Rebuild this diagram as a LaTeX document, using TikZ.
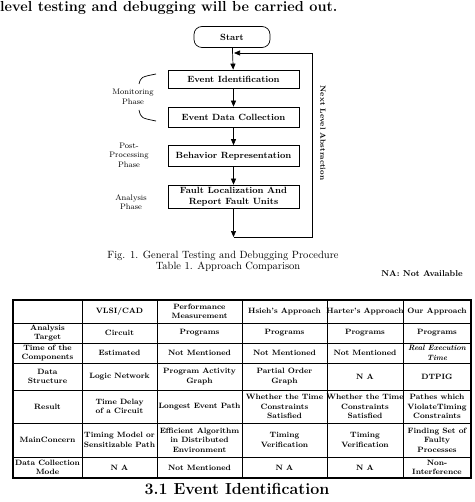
\documentclass[tikz,border=0pt]{standalone}
\usetikzlibrary{arrows.meta}
\begin{document}
\begin{tikzpicture}[x=1pt,y=-1pt,
  box/.style={draw,line width=0.7pt,minimum width=131pt,inner sep=1pt,align=center,font=\fontsize{9}{10.5}\selectfont\bfseries},
  startbox/.style={draw,line width=0.7pt,rounded corners=8pt,minimum width=76pt,minimum height=21pt,inner sep=1pt,font=\fontsize{9}{10.5}\selectfont\bfseries},
  arr/.style={line width=0.7pt,-{Triangle[length=6pt,width=5pt]}},
  ln/.style={line width=0.7pt},
  side/.style={align=center,font=\fontsize{8}{9.5}\selectfont},
  cellt/.style={align=center,inner sep=0pt,font=\fontsize{7.7}{9.6}\selectfont\bfseries},
  grid/.style={line width=0.6pt},
  outer/.style={line width=1.1pt}]
\useasboundingbox (0,0) rectangle (474,502);

% top text
\node[anchor=west,inner sep=0pt,font=\fontsize{14.5}{16}\selectfont\bfseries] (toptext) at (0,8) {level testing and debugging will be carried out.};

% flowchart
\node[startbox] (start) at (232,37) {Start};
\node[box,minimum height=18pt] (ei) at (233.5,79) {Event Identification};
\node[box,minimum height=20pt] (edc) at (233.5,117) {Event Data Collection};
\node[box,minimum height=21pt] (br) at (233.5,156) {Behavior Representation};
\node[box,minimum height=23pt] (fl) at (233.5,196.5) {Fault Localization And\\Report Fault Units};

\coordinate (join) at (234,53);
\coordinate (loopb) at (233.5,237);
\coordinate (loopbr) at (312,237);
\coordinate (looptr) at (312,53);

\draw[arr] (start) -- (ei);
\draw[arr] (ei) -- (edc);
\draw[arr] (edc) -- (br);
\draw[arr] (br) -- (fl);
\draw[arr] (fl) -- (loopb);
\draw[arr] (loopb) -- (loopbr) -- (looptr) -- (join);

\node[rotate=-90,inner sep=0pt,font=\fontsize{7.5}{8}\selectfont\bfseries] (nla) at (323,133) {Next Level Abstraction};

% left labels
\node[side] (mon) at (133,97) {Monitoring\\Phase};
\coordinate (mu1) at (139,84);
\coordinate (mu2) at (156,74);
\coordinate (ml1) at (139,110);
\coordinate (ml2) at (156,121);
\draw[ln] (mu1) .. controls (141,77) .. (mu2);
\draw[ln] (ml1) .. controls (141,118) .. (ml2);
\node[side] (post) at (129,155) {Post-\\Processing\\Phase};
\node[side] (ana) at (131,202) {Analysis\\Phase};

% captions
\node[font=\fontsize{10.5}{12}\selectfont] (fig) at (223,256) {Fig. 1. General Testing and Debugging Procedure};
\node[font=\fontsize{10.5}{12}\selectfont] (tabcap) at (228,267) {Table 1. Approach Comparison};
\node[font=\fontsize{8.5}{10}\selectfont\bfseries] (na) at (422,274) {NA: Not Available};

% table grid
\draw[outer] (13,300) rectangle (471,478);
\foreach \x in {82,157,242,327,403} \draw[grid] (\x,300) -- (\x,478);
\foreach \y in {323,343,363,390,423,457} \draw[grid] (13,\y) -- (471,\y);

% header row
\node[cellt] (h2) at (119.5,311.5) {VLSI/CAD};
\node[cellt] (h3) at (199.5,311.5) {Performance\\Measurement};
\node[cellt] (h4) at (284.5,311.5) {Hsieh's Approach};
\node[cellt] (h5) at (365,311.5) {Harter's Approach};
\node[cellt] (h6) at (437,311.5) {Our Approach};
% row 1
\node[cellt] (a1) at (47.5,333) {Analysis\\Target};
\node[cellt] (a2) at (119.5,333) {Circuit};
\node[cellt] (a3) at (199.5,333) {Programs};
\node[cellt] (a4) at (284.5,333) {Programs};
\node[cellt] (a5) at (365,333) {Programs};
\node[cellt] (a6) at (437,333) {Programs};
% row 2
\node[cellt] (b1) at (47.5,353) {Time of the\\Components};
\node[cellt] (b2) at (119.5,353) {Estimated};
\node[cellt] (b3) at (199.5,353) {Not Mentioned};
\node[cellt] (b4) at (284.5,353) {Not Mentioned};
\node[cellt] (b5) at (365,353) {Not Mentioned};
\node[cellt,font=\fontsize{7.7}{9.6}\selectfont\bfseries\itshape] (b6) at (437,353) {Real Execution\\Time};
% row 3
\node[cellt] (d1) at (47.5,376.5) {Data\\Structure};
\node[cellt] (d2) at (119.5,376.5) {Logic Network};
\node[cellt] (d3) at (199.5,376.5) {Program Activity\\Graph};
\node[cellt] (d4) at (284.5,376.5) {Partial Order\\Graph};
\node[cellt] (d5) at (365,376.5) {N A};
\node[cellt] (d6) at (437,376.5) {DTPIG};
% row 4
\node[cellt] (r1) at (47.5,406.5) {Result};
\node[cellt] (r2) at (119.5,406.5) {Time Delay\\of a Circuit};
\node[cellt] (r3) at (199.5,406.5) {Longest Event Path};
\node[cellt] (r4) at (284.5,406.5) {Whether the Time\\Constraints\\Satisfied};
\node[cellt] (r5) at (365,406.5) {Whether the Time\\Constraints\\Satisfied};
\node[cellt] (r6) at (437,406.5) {Pathes which\\ViolateTiming\\Constraints};
% row 5
\node[cellt] (m1) at (47.5,440) {MainConcern};
\node[cellt] (m2) at (119.5,440) {Timing Model or\\Sensitizable Path};
\node[cellt] (m3) at (199.5,440) {Efficient Algorithm\\in Distributed\\Environment};
\node[cellt] (m4) at (284.5,440) {Timing\\Verification};
\node[cellt] (m5) at (365,440) {Timing\\Verification};
\node[cellt] (m6) at (437,440) {Finding Set of\\Faulty\\Processes};
% row 6
\node[cellt] (c1) at (47.5,467.5) {Data Collection\\Mode};
\node[cellt] (c2) at (119.5,467.5) {N A};
\node[cellt] (c3) at (199.5,467.5) {Not Mentioned};
\node[cellt] (c4) at (284.5,467.5) {N A};
\node[cellt] (c5) at (365,467.5) {N A};
\node[cellt] (c6) at (437,467.5) {Non-\\Interference};

% heading
\node[font=\fontsize{16}{18}\selectfont\bfseries] (head) at (237,489) {3.1 Event Identification};
\end{tikzpicture}
\end{document}
